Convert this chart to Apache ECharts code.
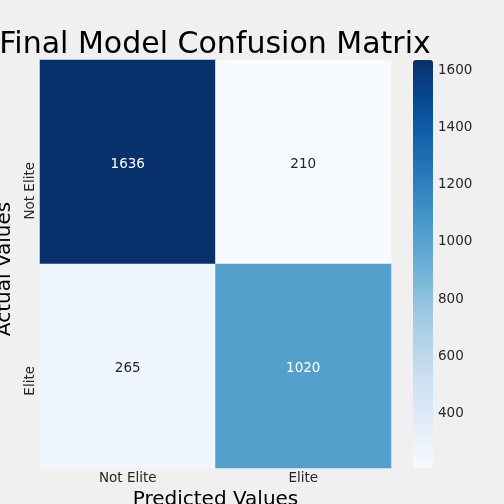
<!DOCTYPE html>
<html><head><meta charset="utf-8">
<script src="https://cdn.jsdelivr.net/npm/echarts@6/dist/echarts.min.js"></script>
<style>html,body{margin:0;padding:0;background:#f0f0f0}#c{width:504px;height:504px}</style>
</head><body><div id="c"></div>
<script>
const predictedLabels = ['Not Elite', 'Elite'];
const actualLabels = ['Not Elite', 'Elite'];
const rowNotElite = [1636, 210];
const rowElite = [265, 1020];
const colorbarMin = 210;
const colorbarMax = 1636;
const blues = ['#f7fbff','#deebf7','#c6dbef','#9ecae1','#6baed6','#4292c6','#2171b5','#08519c','#08306b'];
const font = 'DejaVu Sans';

const rows = [rowNotElite, rowElite];
const mid = (colorbarMin + colorbarMax) / 2;
const data = [];
rows.forEach((row, yi) => row.forEach((v, xi) => {
  data.push({value: [xi, yi, v], label: {color: v > mid ? '#ffffff' : '#262626'}});
}));

const chart = echarts.init(document.getElementById('c'));
chart.setOption({
  backgroundColor: '#f0f0f0',
  animation: false,
  title: {
    text: 'Final Model Confusion Matrix',
    left: 215, top: 30, textAlign: 'center', padding: 0,
    textStyle: {fontFamily: font, fontSize: 30, fontWeight: 'normal', color: '#000'}
  },
  grid: [
    {left: 40, top: 60, width: 351, height: 408, containLabel: false, outerBoundsMode: 'none'},
    {left: 413, top: 60, width: 20, height: 408, containLabel: false, outerBoundsMode: 'none'}
  ],
  xAxis: [
    {type: 'category', gridIndex: 0, data: predictedLabels,
     name: 'Predicted Values', nameLocation: 'middle', nameGap: 19,
     nameTextStyle: {fontFamily: font, fontSize: 20, color: '#000'},
     axisLine: {show: false}, axisTick: {show: false}, splitLine: {show: false},
     axisLabel: {fontFamily: font, fontSize: 13.5, color: '#262626', margin: 3}},
    {type: 'value', gridIndex: 1, show: false, min: 0, max: 1}
  ],
  yAxis: [
    {type: 'category', gridIndex: 0, data: actualLabels, inverse: true,
     name: 'Actual Values', nameLocation: 'middle', nameGap: 20,
     nameTextStyle: {fontFamily: font, fontSize: 20, color: '#000', padding: [0, 10, 0, 0]},
     axisLine: {show: false}, axisTick: {show: false}, splitLine: {show: false},
     axisLabel: {fontFamily: font, fontSize: 13.5, color: '#262626', rotate: 90,
                 align: 'right', verticalAlign: 'bottom', margin: 3}},
    {type: 'value', gridIndex: 1, position: 'right', min: colorbarMin, max: colorbarMax,
     splitNumber: 7,
     axisLine: {show: false}, axisTick: {show: false}, splitLine: {show: false},
     axisLabel: {fontFamily: font, fontSize: 13.5, color: '#262626', margin: 5,
                 showMinLabel: false, showMaxLabel: false,
                 formatter: v => (v % 200 === 0 ? String(v) : '')}}
  ],
  visualMap: {
    type: 'continuous', min: colorbarMin, max: colorbarMax, seriesIndex: 0,
    calculable: false, show: true, orient: 'vertical',
    left: 413, top: 60, itemWidth: 20, itemHeight: 408, padding: 0,
    text: null, showLabel: false,
    inRange: {color: blues}
  },
  series: [{
    type: 'heatmap', xAxisIndex: 0, yAxisIndex: 0, data: data,
    label: {show: true, fontFamily: font, fontSize: 13.5, offset: [0, 2]},
    itemStyle: {borderWidth: 0},
    emphasis: {disabled: true}
  }]
});
</script></body></html>
